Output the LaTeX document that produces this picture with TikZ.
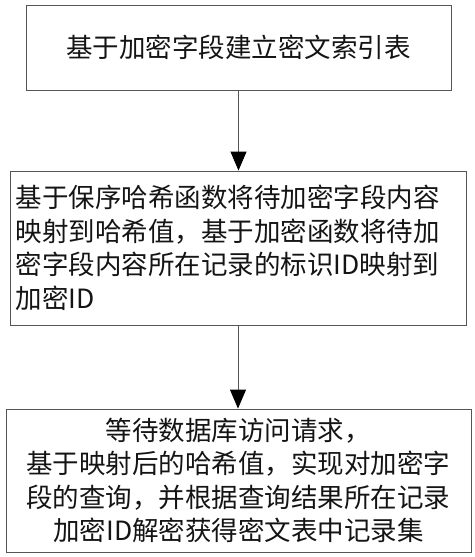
\documentclass[tikz,border=0pt]{standalone}
\usepackage{fontspec}
\setmainfont{Noto Sans CJK SC}
\usetikzlibrary{arrows.meta}
\definecolor{linegray}{RGB}{85,85,85}
\definecolor{txt}{RGB}{20,20,20}
\tikzset{
  stepbox/.style={draw=linegray, line width=0.9pt, rectangle, inner sep=0pt,
    text=txt, font=\fontsize{26.5pt}{33.5pt}\selectfont},
  flow/.style={draw=linegray, line width=0.9pt, -{Triangle[width=16pt,length=19pt,color=black]}},
}
\begin{document}
\begin{tikzpicture}[x=1pt,y=-1pt]
\useasboundingbox (0,0) rectangle (474,557);
\node[stepbox, minimum width=425pt, minimum height=85pt, align=center] (b1) at (238.5,47.5)
  {基于加密字段建立密文索引表};
\node[stepbox, minimum width=456pt, minimum height=154pt, text width=444pt, align=left] (b2) at (238,248)
  {基于保序哈希函数将待加密字段内容\\映射到哈希值，基于加密函数将待加\\密字段内容所在记录的标识ID映射到\\加密ID};
\node[stepbox, minimum width=465pt, minimum height=143pt, text width=455pt, align=center] (b3) at (238.5,480.5)
  {等待数据库访问请求，\\基于映射后的哈希值，实现对加密字\\段的查询，并根据查询结果所在记录\\加密ID解密获得密文表中记录集};
\draw[flow] (b1.south) -- (b1.south |- b2.north);
\draw[flow] (b2.south) -- (b2.south |- b3.north);
\end{tikzpicture}
\end{document}
